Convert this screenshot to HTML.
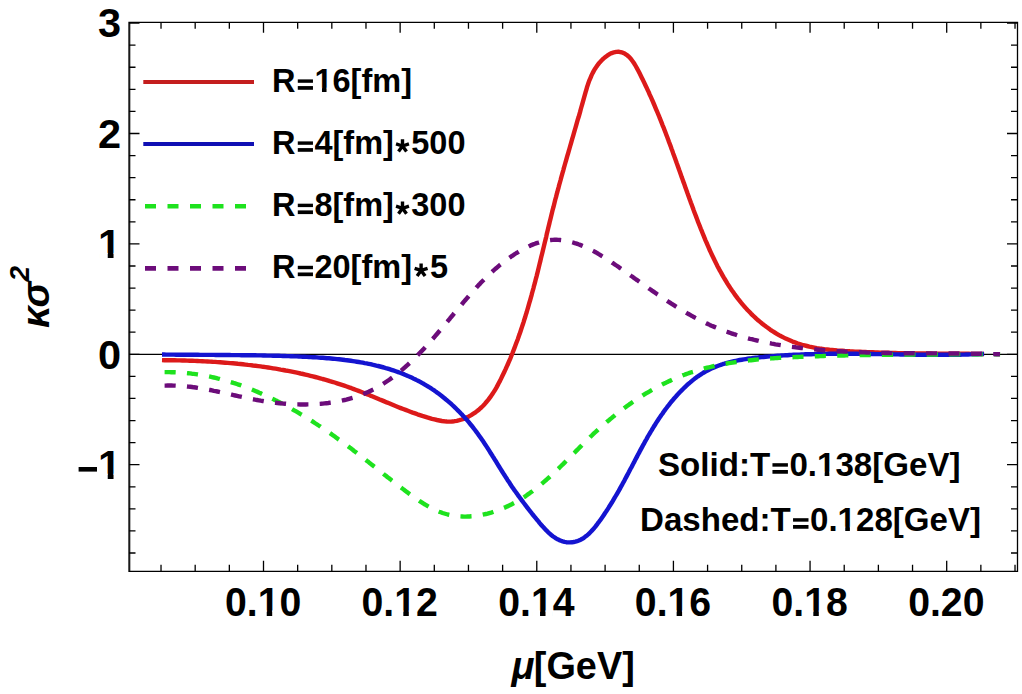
<!DOCTYPE html>
<html><head><meta charset="utf-8"><style>
html,body{margin:0;padding:0;background:#fff;width:1022px;height:694px;overflow:hidden}
svg{display:block}
</style></head><body><svg width="1022" height="694" viewBox="0 0 1022 694"><path d="M129.0,354.3H1017.5" stroke="#000" stroke-width="1.3"/><g><path d="M162.0,360.1L164.5,360.2L167.1,360.2L169.6,360.2L172.1,360.3L174.6,360.3L177.1,360.4L179.7,360.4L182.2,360.5L184.7,360.5L187.2,360.6L189.8,360.7L192.3,360.8L194.8,360.9L197.4,361.0L199.9,361.1L202.4,361.2L205.0,361.4L207.5,361.5L210.0,361.6L212.5,361.8L215.1,361.9L217.6,362.1L220.1,362.3L222.7,362.5L225.2,362.7L227.7,362.9L230.3,363.1L232.8,363.3L235.3,363.5L237.9,363.8L240.4,364.0L242.9,364.3L245.4,364.6L248.0,364.9L250.5,365.1L253.0,365.5L255.5,365.8L258.1,366.1L260.6,366.4L263.1,366.8L265.6,367.1L268.1,367.5L270.6,367.9L273.1,368.3L275.6,368.7L278.1,369.1L280.6,369.6L283.1,370.0L285.6,370.5L288.1,370.9L290.6,371.4L293.1,371.9L295.6,372.4L298.0,372.9L300.5,373.5L303.0,374.0L305.4,374.6L307.9,375.2L310.4,375.8L312.8,376.4L315.3,377.0L317.7,377.6L320.2,378.3L322.6,379.0L325.0,379.6L327.5,380.3L329.9,381.1L332.3,381.8L334.7,382.5L337.1,383.3L339.5,384.1L341.9,384.9L344.3,385.7L346.7,386.5L349.1,387.4L351.5,388.2L353.8,389.1L356.2,390.0L358.6,390.9L360.9,391.8L363.3,392.7L365.6,393.7L368.0,394.6L370.3,395.6L372.7,396.5L375.0,397.5L377.4,398.5L379.7,399.5L382.0,400.4L384.4,401.4L386.7,402.4L389.1,403.3L391.4,404.3L393.8,405.3L396.1,406.2L398.5,407.2L400.8,408.1L403.2,409.0L405.6,409.9L407.9,410.8L410.3,411.7L412.7,412.6L415.1,413.4L417.5,414.3L419.9,415.1L422.3,415.9L424.7,416.6L427.2,417.4L429.6,418.1L432.0,418.8L434.5,419.4L437.0,420.0L439.4,420.5L441.9,421.0L444.4,421.3L446.9,421.5L449.4,421.6L451.8,421.5L454.3,421.2L456.8,420.8L459.3,420.2L461.8,419.5L464.2,418.6L466.6,417.5L468.9,416.4L471.2,415.1L473.4,413.7L475.5,412.3L477.5,410.8L479.4,409.2L481.3,407.5L483.1,405.7L484.8,403.9L486.4,402.0L488.0,400.1L489.5,398.1L491.0,396.1L492.4,394.0L493.8,391.9L495.1,389.8L496.4,387.6L497.6,385.4L498.8,383.1L500.0,380.9L501.1,378.6L502.2,376.3L503.3,374.0L504.4,371.7L505.5,369.4L506.5,367.1L507.6,364.8L508.6,362.4L509.6,360.1L510.6,357.8L511.5,355.4L512.5,353.1L513.4,350.7L514.3,348.4L515.2,346.0L516.1,343.6L517.0,341.3L517.9,338.9L518.7,336.5L519.6,334.1L520.4,331.7L521.2,329.3L522.0,326.9L522.8,324.5L523.6,322.1L524.3,319.7L525.1,317.3L525.8,314.9L526.6,312.5L527.3,310.0L528.0,307.6L528.7,305.2L529.4,302.7L530.1,300.3L530.8,297.9L531.5,295.4L532.1,293.0L532.8,290.5L533.5,288.1L534.1,285.6L534.8,283.2L535.4,280.7L536.0,278.3L536.7,275.8L537.3,273.4L537.9,270.9L538.5,268.4L539.1,266.0L539.7,263.5L540.3,261.1L540.9,258.6L541.5,256.1L542.1,253.7L542.7,251.2L543.3,248.7L543.9,246.3L544.5,243.8L545.1,241.3L545.7,238.9L546.3,236.4L546.8,233.9L547.4,231.5L548.0,229.0L548.6,226.5L549.2,224.1L549.8,221.6L550.4,219.2L551.0,216.7L551.6,214.2L552.2,211.8L552.8,209.3L553.5,206.9L554.1,204.4L554.7,202.0L555.3,199.5L556.0,197.1L556.6,194.7L557.3,192.2L557.9,189.8L558.6,187.3L559.2,184.9L559.9,182.5L560.6,180.0L561.2,177.6L561.9,175.2L562.6,172.7L563.3,170.3L563.9,167.9L564.6,165.5L565.3,163.0L566.0,160.6L566.7,158.2L567.4,155.7L568.1,153.3L568.8,150.9L569.5,148.5L570.2,146.0L570.9,143.6L571.6,141.2L572.3,138.7L573.0,136.3L573.7,133.9L574.4,131.4L575.1,129.0L575.8,126.6L576.5,124.1L577.2,121.7L577.9,119.2L578.7,116.8L579.4,114.4L580.1,111.9L580.7,109.5L581.4,107.0L582.1,104.6L582.8,102.1L583.5,99.6L584.2,97.2L584.9,94.7L585.6,92.2L586.3,89.8L587.0,87.3L587.8,84.9L588.6,82.5L589.5,80.1L590.5,77.8L591.5,75.4L592.6,73.1L593.8,70.9L595.1,68.7L596.5,66.6L598.0,64.5L599.7,62.4L601.5,60.5L603.4,58.6L605.4,57.0L607.5,55.4L609.6,54.1L611.8,53.1L614.0,52.3L616.2,51.9L618.5,51.8L620.6,52.1L622.7,52.7L624.7,53.6L626.6,54.8L628.3,56.2L630.0,57.8L631.5,59.7L633.0,61.7L634.4,63.8L635.7,66.0L637.0,68.3L638.3,70.7L639.5,73.1L640.7,75.5L641.9,77.9L643.1,80.3L644.2,82.7L645.3,85.0L646.5,87.4L647.6,89.8L648.7,92.2L649.7,94.6L650.8,96.9L651.9,99.3L652.9,101.7L653.9,104.0L654.9,106.4L655.9,108.8L656.9,111.1L657.9,113.5L658.9,115.8L659.8,118.2L660.8,120.6L661.7,122.9L662.6,125.3L663.6,127.6L664.5,130.0L665.4,132.3L666.3,134.7L667.2,137.0L668.1,139.4L668.9,141.7L669.8,144.1L670.7,146.4L671.5,148.7L672.4,151.1L673.2,153.4L674.1,155.8L674.9,158.1L675.8,160.5L676.6,162.8L677.5,165.2L678.3,167.5L679.1,169.8L680.0,172.2L680.8,174.5L681.6,176.9L682.5,179.2L683.3,181.6L684.2,183.9L685.0,186.3L685.8,188.6L686.7,191.0L687.5,193.3L688.4,195.7L689.2,198.0L690.1,200.4L690.9,202.7L691.8,205.1L692.7,207.5L693.5,209.8L694.4,212.2L695.3,214.6L696.2,216.9L697.1,219.3L698.0,221.7L698.9,224.0L699.9,226.4L700.8,228.8L701.8,231.2L702.7,233.5L703.7,235.9L704.7,238.3L705.6,240.6L706.7,243.0L707.7,245.3L708.7,247.7L709.7,250.0L710.8,252.4L711.9,254.7L713.0,257.0L714.1,259.3L715.2,261.6L716.4,263.9L717.5,266.2L718.7,268.4L719.9,270.7L721.2,272.9L722.4,275.1L723.7,277.4L725.0,279.5L726.3,281.7L727.6,283.9L729.0,286.0L730.4,288.1L731.8,290.2L733.3,292.3L734.7,294.4L736.2,296.4L737.7,298.4L739.3,300.4L740.9,302.4L742.5,304.3L744.1,306.2L745.8,308.1L747.5,310.0L749.3,311.8L751.0,313.6L752.8,315.4L754.7,317.1L756.5,318.8L758.4,320.5L760.4,322.1L762.3,323.7L764.3,325.3L766.3,326.8L768.4,328.3L770.4,329.8L772.5,331.2L774.7,332.5L776.8,333.8L779.0,335.1L781.2,336.3L783.4,337.4L785.7,338.6L788.0,339.6L790.3,340.6L792.6,341.6L794.9,342.4L797.3,343.3L799.7,344.0L802.1,344.8L804.5,345.4L806.9,346.0L809.4,346.6L811.9,347.1L814.3,347.6L816.8,348.1L819.3,348.5L821.9,348.8L824.4,349.2L826.9,349.5L829.5,349.8L832.0,350.0L834.6,350.2L837.1,350.5L839.7,350.7L842.2,350.8L844.8,351.0L847.4,351.1L849.9,351.3L852.5,351.4L855.0,351.6L857.6,351.7L860.1,351.8L862.6,351.9L865.2,352.0L867.7,352.1L870.3,352.2L872.8,352.3L875.3,352.4L877.8,352.5L880.4,352.6L882.9,352.7L885.4,352.7L887.9,352.8L890.4,352.9L893.0,352.9L895.5,353.0L898.0,353.1L900.5,353.1L903.0,353.2L905.5,353.2L908.0,353.2L910.6,353.3L913.1,353.3L915.6,353.4L918.1,353.4L920.6,353.4L923.1,353.5L925.6,353.5L928.2,353.5L930.7,353.5L933.2,353.6L935.7,353.6L938.2,353.6L940.8,353.6L943.3,353.7L945.8,353.7L948.3,353.7L950.9,353.7L953.4,353.7L955.9,353.8L958.5,353.8L961.0,353.8L963.6,353.8L966.1,353.8L968.7,353.8L971.2,353.9L973.8,353.9L976.3,353.9L978.9,353.9L981.5,354.0L984.1,354.0" fill="none" stroke="#dc1a1a" stroke-width="4.4" stroke-linejoin="round"/><path d="M162.0,354.5L164.0,354.5L166.0,354.6L168.0,354.6L170.0,354.6L172.1,354.6L174.1,354.6L176.1,354.7L178.1,354.7L180.1,354.7L182.1,354.7L184.1,354.7L186.1,354.8L188.0,354.8L190.0,354.8L192.0,354.8L194.0,354.8L196.0,354.8L198.0,354.8L200.0,354.9L201.9,354.9L203.9,354.9L205.9,354.9L207.9,354.9L209.9,354.9L211.8,354.9L213.8,354.9L215.8,355.0L217.8,355.0L219.7,355.0L221.7,355.0L223.7,355.0L225.6,355.0L227.6,355.0L229.6,355.0L231.5,355.1L233.5,355.1L235.5,355.1L237.5,355.1L239.4,355.1L241.4,355.2L243.4,355.2L245.3,355.2L247.3,355.2L249.3,355.3L251.2,355.3L253.2,355.3L255.2,355.3L257.2,355.4L259.1,355.4L261.1,355.4L263.1,355.5L265.0,355.5L267.0,355.6L269.0,355.6L271.0,355.6L273.0,355.7L274.9,355.7L276.9,355.8L278.9,355.8L280.9,355.9L282.9,356.0L284.9,356.0L286.9,356.1L288.8,356.1L290.8,356.2L292.8,356.3L294.8,356.4L296.8,356.4L298.8,356.5L300.8,356.6L302.8,356.7L304.9,356.8L306.9,356.9L308.9,357.0L310.9,357.1L312.9,357.2L314.9,357.3L316.9,357.4L318.9,357.6L320.9,357.7L322.9,357.8L324.9,358.0L326.9,358.2L329.0,358.3L331.0,358.5L333.0,358.7L335.0,358.9L337.0,359.1L339.0,359.3L341.0,359.5L342.9,359.7L344.9,360.0L346.9,360.2L348.9,360.5L350.9,360.8L352.9,361.1L354.8,361.4L356.8,361.7L358.8,362.0L360.7,362.3L362.7,362.7L364.6,363.1L366.6,363.4L368.5,363.8L370.5,364.2L372.4,364.7L374.3,365.1L376.3,365.6L378.2,366.0L380.1,366.5L382.0,367.0L383.9,367.5L385.8,368.1L387.7,368.6L389.5,369.2L391.4,369.8L393.3,370.4L395.1,371.0L397.0,371.7L398.8,372.3L400.7,373.0L402.5,373.7L404.3,374.4L406.1,375.2L407.9,376.0L409.7,376.7L411.5,377.5L413.2,378.4L415.0,379.2L416.7,380.1L418.5,381.0L420.2,381.9L421.9,382.9L423.6,383.8L425.3,384.8L427.0,385.8L428.7,386.9L430.4,387.9L432.0,389.0L433.7,390.1L435.3,391.3L436.9,392.4L438.5,393.6L440.1,394.8L441.7,396.0L443.2,397.2L444.8,398.5L446.3,399.8L447.9,401.1L449.4,402.4L450.9,403.7L452.3,405.0L453.8,406.4L455.3,407.8L456.7,409.2L458.1,410.6L459.5,412.0L460.9,413.5L462.3,414.9L463.7,416.4L465.0,417.9L466.4,419.4L467.7,420.9L469.0,422.4L470.2,424.0L471.5,425.5L472.8,427.1L474.0,428.7L475.2,430.3L476.4,431.9L477.6,433.5L478.7,435.1L479.9,436.7L481.0,438.3L482.2,440.0L483.3,441.6L484.4,443.3L485.5,444.9L486.6,446.6L487.6,448.2L488.7,449.9L489.8,451.6L490.8,453.3L491.9,454.9L492.9,456.6L494.0,458.3L495.0,460.0L496.1,461.6L497.1,463.3L498.1,465.0L499.2,466.7L500.2,468.3L501.2,470.0L502.3,471.7L503.3,473.3L504.4,475.0L505.4,476.6L506.5,478.3L507.5,479.9L508.6,481.5L509.7,483.1L510.7,484.8L511.8,486.4L512.9,488.0L514.0,489.6L515.2,491.2L516.3,492.7L517.4,494.3L518.5,495.9L519.7,497.5L520.9,499.1L522.0,500.7L523.2,502.2L524.4,503.8L525.6,505.4L526.8,507.0L528.1,508.6L529.3,510.2L530.6,511.8L531.8,513.4L533.1,515.0L534.4,516.6L535.7,518.2L537.0,519.8L538.4,521.4L539.7,523.1L541.1,524.7L542.5,526.3L543.9,527.8L545.3,529.4L546.8,530.8L548.2,532.3L549.7,533.6L551.3,535.0L552.8,536.2L554.4,537.3L556.0,538.4L557.6,539.3L559.3,540.1L561.0,540.8L562.7,541.4L564.5,541.9L566.3,542.2L568.1,542.4L570.0,542.4L571.8,542.3L573.6,542.0L575.4,541.6L577.2,541.1L578.9,540.5L580.6,539.7L582.3,538.8L583.9,537.8L585.4,536.6L587.0,535.4L588.5,534.1L589.9,532.7L591.3,531.3L592.7,529.7L594.1,528.2L595.4,526.6L596.7,524.9L597.9,523.2L599.2,521.6L600.4,519.9L601.6,518.2L602.8,516.5L604.0,514.7L605.1,513.0L606.3,511.3L607.4,509.6L608.5,507.9L609.5,506.2L610.6,504.5L611.7,502.8L612.7,501.1L613.7,499.4L614.7,497.7L615.7,496.0L616.7,494.3L617.7,492.6L618.7,490.9L619.7,489.1L620.6,487.4L621.6,485.7L622.5,484.0L623.4,482.3L624.4,480.6L625.3,478.8L626.2,477.1L627.1,475.4L628.0,473.7L628.9,472.0L629.8,470.2L630.7,468.5L631.7,466.8L632.6,465.0L633.5,463.3L634.4,461.6L635.3,459.8L636.2,458.1L637.1,456.4L638.0,454.6L639.0,452.9L639.9,451.1L640.8,449.4L641.8,447.6L642.7,445.9L643.7,444.2L644.6,442.4L645.6,440.7L646.6,439.0L647.5,437.2L648.5,435.5L649.5,433.8L650.5,432.1L651.6,430.4L652.6,428.7L653.6,427.0L654.7,425.3L655.7,423.6L656.8,421.9L657.9,420.2L659.0,418.6L660.1,416.9L661.2,415.3L662.4,413.7L663.5,412.0L664.7,410.4L665.9,408.8L667.1,407.2L668.3,405.7L669.5,404.1L670.7,402.5L672.0,401.0L673.3,399.5L674.6,397.9L675.9,396.5L677.2,395.0L678.6,393.5L680.0,392.0L681.4,390.6L682.8,389.2L684.2,387.8L685.7,386.4L687.1,385.0L688.6,383.7L690.2,382.4L691.7,381.1L693.2,379.9L694.8,378.6L696.4,377.4L698.0,376.3L699.7,375.2L701.3,374.1L703.0,373.0L704.7,372.0L706.4,371.1L708.1,370.2L709.9,369.3L711.6,368.4L713.4,367.7L715.2,366.9L717.0,366.2L718.9,365.5L720.7,364.9L722.6,364.2L724.5,363.7L726.3,363.1L728.2,362.6L730.1,362.1L732.1,361.6L734.0,361.2L735.9,360.8L737.9,360.4L739.8,360.0L741.8,359.7L743.7,359.4L745.7,359.1L747.7,358.8L749.7,358.5L751.7,358.3L753.7,358.0L755.6,357.8L757.6,357.6L759.6,357.3L761.6,357.1L763.6,357.0L765.6,356.8L767.6,356.6L769.6,356.4L771.6,356.3L773.6,356.1L775.6,355.9L777.6,355.8L779.6,355.7L781.5,355.5L783.5,355.4L785.5,355.3L787.5,355.2L789.5,355.0L791.5,354.9L793.5,354.8L795.5,354.7L797.4,354.7L799.4,354.6L801.4,354.5L803.4,354.4L805.4,354.3L807.4,354.3L809.4,354.2L811.3,354.2L813.3,354.1L815.3,354.1L817.3,354.0L819.3,354.0L821.3,353.9L823.2,353.9L825.2,353.9L827.2,353.9L829.2,353.8L831.2,353.8L833.2,353.8L835.1,353.8L837.1,353.8L839.1,353.8L841.1,353.8L843.1,353.8L845.1,353.8L847.0,353.8L849.0,353.8L851.0,353.8L853.0,353.8L855.0,353.8L856.9,353.8L858.9,353.9L860.9,353.9L862.9,353.9L864.9,353.9L866.8,354.0L868.8,354.0L870.8,354.0L872.8,354.0L874.8,354.1L876.7,354.1L878.7,354.1L880.7,354.1L882.7,354.2L884.7,354.2L886.7,354.2L888.6,354.3L890.6,354.3L892.6,354.3L894.6,354.4L896.6,354.4L898.5,354.4L900.5,354.5L902.5,354.5L904.5,354.5L906.5,354.6L908.5,354.6L910.4,354.6L912.4,354.6L914.4,354.7L916.4,354.7L918.4,354.7L920.4,354.7L922.3,354.7L924.3,354.8L926.3,354.8L928.3,354.8L930.3,354.8L932.3,354.8L934.2,354.8L936.2,354.8L938.2,354.8L940.2,354.8L942.2,354.8L944.2,354.8L946.2,354.8L948.2,354.8L950.1,354.8L952.1,354.8L954.1,354.7L956.1,354.7L958.1,354.7L960.1,354.7L962.1,354.6L964.1,354.6L966.1,354.5L968.1,354.5L970.1,354.4L972.0,354.4L974.0,354.3L976.0,354.2L978.0,354.2L980.0,354.1L982.0,354.0L984.0,353.9" fill="none" stroke="#1414d0" stroke-width="4.4" stroke-linejoin="round"/><path d="M161.8,372.2L163.7,372.1L165.6,372.1L167.5,372.1L169.4,372.1L171.3,372.2L173.2,372.2L175.1,372.3L177.0,372.4L178.8,372.5L180.7,372.6L182.6,372.7L184.4,372.9L186.3,373.0L188.2,373.2L190.0,373.4L191.9,373.7L193.7,373.9L195.6,374.1L197.4,374.4L199.2,374.7L201.1,375.0L202.9,375.3L204.7,375.6L206.5,376.0L208.3,376.3L210.2,376.7L212.0,377.1L213.8,377.5L215.6,377.9L217.4,378.4L219.2,378.8L220.9,379.3L222.7,379.7L224.5,380.2L226.3,380.7L228.1,381.3L229.8,381.8L231.6,382.3L233.4,382.9L235.1,383.4L236.9,384.0L238.6,384.6L240.4,385.2L242.1,385.8L243.8,386.5L245.6,387.1L247.3,387.8L249.0,388.4L250.8,389.1L252.5,389.8L254.2,390.5L255.9,391.2L257.6,391.9L259.3,392.7L261.0,393.4L262.7,394.2L264.4,394.9L266.1,395.7L267.8,396.5L269.4,397.3L271.1,398.1L272.8,398.9L274.4,399.7L276.1,400.6L277.8,401.4L279.4,402.2L281.1,403.1L282.7,404.0L284.4,404.8L286.0,405.7L287.6,406.6L289.3,407.5L290.9,408.4L292.5,409.4L294.1,410.3L295.7,411.2L297.4,412.2L299.0,413.1L300.6,414.1L302.2,415.0L303.8,416.0L305.3,417.0L306.9,417.9L308.5,418.9L310.1,419.9L311.7,420.9L313.2,421.9L314.8,423.0L316.4,424.0L317.9,425.0L319.5,426.0L321.0,427.1L322.6,428.1L324.1,429.1L325.7,430.2L327.2,431.2L328.7,432.3L330.3,433.4L331.8,434.4L333.3,435.5L334.8,436.6L336.3,437.7L337.8,438.8L339.3,439.8L340.8,440.9L342.3,442.0L343.8,443.1L345.3,444.2L346.8,445.3L348.3,446.4L349.7,447.5L351.2,448.6L352.7,449.8L354.1,450.9L355.6,452.0L357.0,453.1L358.5,454.2L359.9,455.3L361.4,456.5L362.8,457.6L364.3,458.7L365.7,459.9L367.1,461.0L368.6,462.1L370.0,463.3L371.5,464.4L372.9,465.5L374.3,466.7L375.8,467.8L377.2,468.9L378.7,470.1L380.1,471.2L381.5,472.4L383.0,473.5L384.4,474.7L385.9,475.8L387.3,476.9L388.8,478.1L390.3,479.2L391.7,480.4L393.2,481.5L394.7,482.7L396.2,483.8L397.7,485.0L399.2,486.1L400.7,487.3L402.2,488.4L403.7,489.6L405.2,490.7L406.7,491.9L408.3,493.0L409.8,494.2L411.4,495.3L412.9,496.5L414.5,497.6L416.1,498.7L417.7,499.8L419.3,500.9L420.9,501.9L422.5,502.9L424.1,504.0L425.7,504.9L427.4,505.9L429.0,506.8L430.7,507.7L432.3,508.6L434.0,509.4L435.7,510.2L437.4,511.0L439.1,511.7L440.8,512.3L442.6,513.0L444.3,513.5L446.0,514.0L447.8,514.5L449.6,514.9L451.3,515.3L453.1,515.6L454.9,515.9L456.7,516.1L458.5,516.3L460.3,516.4L462.2,516.5L464.0,516.6L465.8,516.6L467.6,516.5L469.4,516.5L471.3,516.3L473.1,516.2L474.9,516.0L476.7,515.7L478.6,515.5L480.4,515.2L482.2,514.8L484.0,514.4L485.8,514.0L487.6,513.6L489.4,513.1L491.2,512.6L493.0,512.0L494.7,511.4L496.5,510.8L498.3,510.2L500.0,509.5L501.7,508.9L503.4,508.1L505.1,507.4L506.8,506.6L508.5,505.9L510.2,505.0L511.8,504.2L513.5,503.3L515.1,502.5L516.7,501.6L518.3,500.7L519.8,499.7L521.4,498.8L522.9,497.8L524.5,496.8L526.0,495.8L527.5,494.7L529.0,493.7L530.5,492.6L532.0,491.5L533.4,490.4L534.9,489.3L536.3,488.2L537.8,487.1L539.2,485.9L540.6,484.7L542.0,483.6L543.4,482.4L544.8,481.2L546.2,480.0L547.6,478.7L549.0,477.5L550.4,476.3L551.7,475.0L553.1,473.7L554.4,472.5L555.8,471.2L557.1,469.9L558.5,468.6L559.8,467.3L561.1,466.0L562.5,464.7L563.8,463.4L565.1,462.1L566.4,460.7L567.8,459.4L569.1,458.1L570.4,456.8L571.7,455.4L573.1,454.1L574.4,452.8L575.7,451.4L577.0,450.1L578.4,448.7L579.7,447.4L581.0,446.1L582.3,444.7L583.7,443.4L585.0,442.1L586.4,440.8L587.7,439.5L589.1,438.1L590.4,436.8L591.8,435.5L593.1,434.2L594.5,432.9L595.9,431.7L597.3,430.4L598.7,429.1L600.1,427.9L601.5,426.6L602.9,425.4L604.3,424.1L605.7,422.9L607.1,421.7L608.6,420.5L610.0,419.3L611.5,418.1L612.9,416.9L614.4,415.7L615.8,414.5L617.3,413.4L618.8,412.2L620.3,411.1L621.8,409.9L623.2,408.8L624.7,407.7L626.3,406.6L627.8,405.5L629.3,404.4L630.8,403.4L632.3,402.3L633.9,401.2L635.4,400.2L637.0,399.2L638.5,398.2L640.1,397.2L641.7,396.2L643.2,395.2L644.8,394.2L646.4,393.2L648.0,392.3L649.6,391.4L651.2,390.4L652.8,389.5L654.4,388.6L656.0,387.7L657.7,386.9L659.3,386.0L660.9,385.2L662.6,384.3L664.2,383.5L665.9,382.7L667.5,381.9L669.2,381.1L670.9,380.4L672.5,379.6L674.2,378.9L675.9,378.2L677.6,377.5L679.3,376.8L681.0,376.1L682.7,375.4L684.4,374.8L686.1,374.1L687.9,373.5L689.6,372.9L691.3,372.3L693.1,371.8L694.8,371.2L696.6,370.7L698.3,370.2L700.1,369.6L701.9,369.1L703.7,368.7L705.4,368.2L707.2,367.7L709.0,367.3L710.8,366.9L712.6,366.4L714.4,366.0L716.2,365.6L718.0,365.3L719.8,364.9L721.6,364.5L723.4,364.2L725.2,363.8L727.1,363.5L728.9,363.2L730.7,362.9L732.6,362.6L734.4,362.3L736.2,362.1L738.1,361.8L739.9,361.5L741.8,361.3L743.6,361.1L745.5,360.8L747.3,360.6L749.2,360.4L751.0,360.2L752.9,360.0L754.7,359.8L756.6,359.6L758.5,359.4L760.3,359.3L762.2,359.1L764.1,359.0L765.9,358.8L767.8,358.7L769.7,358.5L771.5,358.4L773.4,358.3L775.3,358.1L777.2,358.0L779.0,357.9L780.9,357.8L782.8,357.7L784.6,357.6L786.5,357.5L788.4,357.4L790.3,357.3L792.1,357.2L794.0,357.1L795.9,357.0L797.7,357.0L799.6,356.9L801.5,356.8L803.3,356.7L805.2,356.7L807.1,356.6L808.9,356.5L810.8,356.4L812.7,356.4L814.5,356.3L816.4,356.2L818.2,356.2L820.1,356.1L822.0,356.1L823.8,356.0L825.7,355.9L827.5,355.9L829.4,355.8L831.2,355.8L833.1,355.7L834.9,355.7L836.8,355.6L838.7,355.6L840.5,355.5L842.4,355.5L844.2,355.5L846.1,355.4L847.9,355.4L849.8,355.3L851.6,355.3L853.5,355.3L855.3,355.2L857.2,355.2L859.0,355.2L860.9,355.1L862.7,355.1L864.6,355.1L866.4,355.0L868.3,355.0L870.1,355.0L871.9,355.0L873.8,354.9L875.6,354.9L877.5,354.9L879.3,354.9L881.2,354.8L883.0,354.8L884.9,354.8L886.7,354.8L888.6,354.8L890.4,354.7L892.3,354.7L894.1,354.7L896.0,354.7L897.8,354.7L899.6,354.7L901.5,354.6L903.3,354.6L905.2,354.6L907.0,354.6L908.9,354.6L910.7,354.6L912.6,354.6L914.4,354.6L916.3,354.6L918.1,354.5L920.0,354.5L921.8,354.5L923.7,354.5L925.5,354.5L927.4,354.5L929.2,354.5L931.1,354.5L932.9,354.5L934.8,354.5L936.6,354.5L938.5,354.5L940.3,354.5L942.2,354.5L944.1,354.4L945.9,354.4L947.8,354.4L949.6,354.4L951.5,354.4L953.3,354.4L955.2,354.4L957.1,354.4L958.9,354.4L960.8,354.4L962.6,354.4L964.5,354.4L966.4,354.4L968.2,354.4L970.1,354.4L972.0,354.3L973.8,354.3L975.7,354.3L977.6,354.3L979.4,354.3L981.3,354.3L983.2,354.3L985.1,354.3L986.9,354.3L988.8,354.3L990.7,354.2L992.6,354.2L994.4,354.2L996.3,354.2L998.2,354.2L1000.1,354.2" fill="none" stroke="#1ee21e" stroke-width="4.4" stroke-linejoin="round" stroke-dasharray="11.1 11.3" stroke-dashoffset="-2.8"/><path d="M161.8,385.7L163.7,385.6L165.7,385.6L167.6,385.5L169.5,385.5L171.5,385.5L173.4,385.6L175.3,385.6L177.2,385.7L179.0,385.8L180.9,385.9L182.8,386.0L184.6,386.2L186.5,386.4L188.3,386.6L190.2,386.8L192.0,387.0L193.9,387.3L195.7,387.5L197.5,387.8L199.3,388.1L201.2,388.4L203.0,388.7L204.8,389.0L206.6,389.3L208.4,389.7L210.2,390.0L212.0,390.4L213.8,390.8L215.6,391.1L217.4,391.5L219.1,391.9L220.9,392.3L222.7,392.7L224.5,393.1L226.3,393.5L228.1,393.9L229.9,394.3L231.7,394.7L233.5,395.1L235.3,395.5L237.1,395.9L238.9,396.3L240.7,396.7L242.5,397.1L244.3,397.5L246.1,397.9L247.9,398.2L249.7,398.6L251.5,399.0L253.4,399.3L255.2,399.7L257.0,400.0L258.9,400.3L260.7,400.7L262.6,401.0L264.4,401.3L266.3,401.6L268.1,401.8L270.0,402.1L271.9,402.3L273.8,402.6L275.6,402.8L277.5,403.0L279.4,403.2L281.3,403.4L283.2,403.6L285.1,403.7L286.9,403.9L288.8,404.0L290.7,404.1L292.6,404.2L294.5,404.3L296.4,404.4L298.3,404.4L300.2,404.5L302.1,404.5L304.0,404.5L305.9,404.5L307.7,404.4L309.6,404.4L311.5,404.3L313.4,404.3L315.2,404.2L317.1,404.1L319.0,403.9L320.8,403.8L322.7,403.6L324.6,403.4L326.4,403.2L328.3,403.0L330.1,402.7L331.9,402.5L333.8,402.2L335.6,401.9L337.4,401.5L339.2,401.2L341.0,400.8L342.8,400.4L344.6,400.0L346.3,399.6L348.1,399.1L349.9,398.6L351.6,398.1L353.4,397.6L355.1,397.1L356.8,396.5L358.5,395.9L360.2,395.3L361.9,394.6L363.6,394.0L365.3,393.3L366.9,392.5L368.6,391.8L370.2,391.0L371.8,390.2L373.5,389.4L375.1,388.6L376.6,387.7L378.2,386.8L379.8,385.9L381.3,385.0L382.9,384.0L384.4,383.0L385.9,382.0L387.4,381.0L388.9,380.0L390.4,378.9L391.9,377.9L393.4,376.8L394.9,375.6L396.3,374.5L397.8,373.4L399.2,372.2L400.6,371.0L402.0,369.8L403.4,368.6L404.8,367.4L406.2,366.1L407.6,364.9L409.0,363.6L410.4,362.3L411.7,361.0L413.1,359.7L414.4,358.4L415.8,357.1L417.1,355.8L418.4,354.4L419.7,353.0L421.1,351.7L422.4,350.3L423.7,348.9L425.0,347.5L426.2,346.1L427.5,344.7L428.8,343.3L430.1,341.9L431.3,340.4L432.6,339.0L433.9,337.6L435.1,336.1L436.3,334.7L437.6,333.2L438.8,331.8L440.1,330.3L441.3,328.9L442.5,327.4L443.7,326.0L445.0,324.5L446.2,323.0L447.4,321.6L448.6,320.1L449.8,318.7L451.0,317.2L452.2,315.8L453.4,314.3L454.6,312.9L455.8,311.4L457.0,310.0L458.2,308.5L459.4,307.1L460.6,305.7L461.8,304.3L463.0,302.8L464.2,301.4L465.4,300.0L466.6,298.6L467.8,297.2L469.0,295.8L470.2,294.4L471.4,293.1L472.6,291.7L473.9,290.3L475.1,289.0L476.3,287.6L477.6,286.3L478.8,284.9L480.1,283.6L481.3,282.3L482.6,281.0L483.9,279.7L485.2,278.4L486.5,277.1L487.8,275.8L489.1,274.6L490.4,273.3L491.8,272.1L493.1,270.9L494.5,269.7L495.8,268.5L497.2,267.3L498.6,266.1L500.0,264.9L501.5,263.8L502.9,262.6L504.4,261.5L505.8,260.4L507.3,259.3L508.8,258.2L510.3,257.2L511.8,256.1L513.4,255.1L514.9,254.0L516.5,253.0L518.1,252.1L519.7,251.1L521.4,250.2L523.0,249.2L524.7,248.4L526.3,247.5L528.0,246.7L529.7,245.9L531.4,245.1L533.2,244.4L534.9,243.8L536.6,243.1L538.4,242.6L540.2,242.0L541.9,241.6L543.7,241.1L545.5,240.8L547.3,240.5L549.1,240.2L551.0,240.0L552.8,239.9L554.6,239.8L556.5,239.8L558.3,239.9L560.2,240.0L562.0,240.2L563.9,240.5L565.7,240.8L567.6,241.1L569.4,241.6L571.2,242.0L573.0,242.5L574.8,243.1L576.6,243.6L578.4,244.3L580.1,244.9L581.9,245.6L583.6,246.3L585.3,247.0L587.0,247.8L588.7,248.6L590.3,249.4L592.0,250.3L593.6,251.1L595.2,252.0L596.8,252.9L598.4,253.9L600.0,254.8L601.6,255.8L603.2,256.7L604.8,257.7L606.3,258.7L607.9,259.8L609.4,260.8L611.0,261.8L612.5,262.9L614.1,263.9L615.6,265.0L617.2,266.0L618.7,267.1L620.2,268.2L621.8,269.2L623.3,270.3L624.8,271.4L626.4,272.5L627.9,273.6L629.4,274.6L630.9,275.7L632.5,276.8L634.0,277.9L635.5,279.0L637.1,280.1L638.6,281.2L640.1,282.2L641.7,283.3L643.2,284.4L644.7,285.5L646.3,286.6L647.8,287.6L649.3,288.7L650.9,289.8L652.4,290.9L653.9,291.9L655.5,293.0L657.0,294.1L658.6,295.1L660.1,296.2L661.7,297.2L663.2,298.3L664.8,299.3L666.3,300.3L667.9,301.4L669.5,302.4L671.0,303.4L672.6,304.4L674.2,305.4L675.7,306.4L677.3,307.4L678.9,308.3L680.5,309.3L682.1,310.3L683.7,311.2L685.3,312.1L686.9,313.1L688.5,314.0L690.1,314.9L691.7,315.8L693.3,316.7L695.0,317.6L696.6,318.4L698.2,319.3L699.9,320.1L701.5,321.0L703.2,321.8L704.8,322.6L706.5,323.4L708.2,324.1L709.8,324.9L711.5,325.7L713.2,326.4L714.9,327.1L716.6,327.8L718.3,328.5L720.0,329.2L721.7,329.9L723.5,330.5L725.2,331.2L726.9,331.8L728.7,332.4L730.4,333.0L732.1,333.6L733.9,334.2L735.7,334.7L737.4,335.3L739.2,335.8L741.0,336.3L742.7,336.8L744.5,337.3L746.3,337.8L748.1,338.3L749.9,338.8L751.7,339.2L753.5,339.7L755.3,340.1L757.1,340.5L758.9,341.0L760.7,341.4L762.6,341.8L764.4,342.1L766.2,342.5L768.0,342.9L769.9,343.2L771.7,343.6L773.5,343.9L775.4,344.3L777.2,344.6L779.0,344.9L780.9,345.2L782.7,345.5L784.6,345.8L786.4,346.0L788.3,346.3L790.1,346.6L792.0,346.8L793.8,347.1L795.7,347.3L797.6,347.6L799.4,347.8L801.3,348.0L803.1,348.2L805.0,348.4L806.9,348.6L808.7,348.8L810.6,349.0L812.4,349.2L814.3,349.4L816.2,349.5L818.0,349.7L819.9,349.9L821.8,350.0L823.6,350.2L825.5,350.3L827.3,350.5L829.2,350.6L831.1,350.7L832.9,350.9L834.8,351.0L836.6,351.1L838.5,351.2L840.3,351.3L842.2,351.4L844.1,351.5L845.9,351.6L847.8,351.7L849.6,351.8L851.5,351.9L853.3,352.0L855.2,352.1L857.0,352.2L858.9,352.2L860.7,352.3L862.6,352.4L864.4,352.4L866.3,352.5L868.2,352.6L870.0,352.6L871.9,352.7L873.7,352.7L875.6,352.8L877.4,352.8L879.3,352.8L881.1,352.9L883.0,352.9L884.8,353.0L886.7,353.0L888.5,353.0L890.4,353.1L892.2,353.1L894.1,353.1L895.9,353.1L897.8,353.2L899.6,353.2L901.5,353.2L903.3,353.2L905.2,353.2L907.0,353.2L908.9,353.3L910.7,353.3L912.6,353.3L914.5,353.3L916.3,353.3L918.2,353.3L920.0,353.3L921.9,353.3L923.7,353.3L925.6,353.4L927.4,353.4L929.3,353.4L931.1,353.4L933.0,353.4L934.8,353.4L936.7,353.4L938.6,353.4L940.4,353.4L942.3,353.4L944.1,353.4L946.0,353.4L947.8,353.4L949.7,353.5L951.5,353.5L953.4,353.5L955.3,353.5L957.1,353.5L959.0,353.5L960.8,353.5L962.7,353.6L964.6,353.6L966.4,353.6L968.3,353.6L970.2,353.6L972.0,353.7L973.9,353.7L975.7,353.7L977.6,353.8L979.5,353.8L981.3,353.8L983.2,353.9L985.1,353.9L986.9,353.9L988.8,354.0L990.7,354.0L992.5,354.1L994.4,354.1L996.3,354.2L998.2,354.2L1000.0,354.3" fill="none" stroke="#6c0c7a" stroke-width="4.4" stroke-linejoin="round" stroke-dasharray="11.1 11.3" stroke-dashoffset="-2.8"/></g><path d="M129.0,22.3H1017.5V571.3H129.0Z" fill="none" stroke="#000" stroke-width="1.3"/><path d="M129.8,22.3V571.3" stroke="#000" stroke-width="1"/><path d="M161.02,571.3v-6.5M161.02,22.3v6.5M195.18,571.3v-6.5M195.18,22.3v6.5M229.34,571.3v-6.5M229.34,22.3v6.5M263.50,571.3v-10.5M263.50,22.3v10.5M297.66,571.3v-6.5M297.66,22.3v6.5M331.82,571.3v-6.5M331.82,22.3v6.5M365.98,571.3v-6.5M365.98,22.3v6.5M400.14,571.3v-10.5M400.14,22.3v10.5M434.30,571.3v-6.5M434.30,22.3v6.5M468.46,571.3v-6.5M468.46,22.3v6.5M502.62,571.3v-6.5M502.62,22.3v6.5M536.78,571.3v-10.5M536.78,22.3v10.5M570.94,571.3v-6.5M570.94,22.3v6.5M605.10,571.3v-6.5M605.10,22.3v6.5M639.26,571.3v-6.5M639.26,22.3v6.5M673.42,571.3v-10.5M673.42,22.3v10.5M707.58,571.3v-6.5M707.58,22.3v6.5M741.74,571.3v-6.5M741.74,22.3v6.5M775.90,571.3v-6.5M775.90,22.3v6.5M810.06,571.3v-10.5M810.06,22.3v10.5M844.22,571.3v-6.5M844.22,22.3v6.5M878.38,571.3v-6.5M878.38,22.3v6.5M912.54,571.3v-6.5M912.54,22.3v6.5M946.70,571.3v-10.5M946.70,22.3v10.5M980.86,571.3v-6.5M980.86,22.3v6.5M1015.02,571.3v-6.5M1015.02,22.3v6.5M129.0,553.02h6.5M1017.5,553.02h-6.5M129.0,530.94h6.5M1017.5,530.94h-6.5M129.0,508.86h6.5M1017.5,508.86h-6.5M129.0,486.78h6.5M1017.5,486.78h-6.5M129.0,464.70h10.5M1017.5,464.70h-10.5M129.0,442.62h6.5M1017.5,442.62h-6.5M129.0,420.54h6.5M1017.5,420.54h-6.5M129.0,398.46h6.5M1017.5,398.46h-6.5M129.0,376.38h6.5M1017.5,376.38h-6.5M129.0,354.30h10.5M1017.5,354.30h-10.5M129.0,332.22h6.5M1017.5,332.22h-6.5M129.0,310.14h6.5M1017.5,310.14h-6.5M129.0,288.06h6.5M1017.5,288.06h-6.5M129.0,265.98h6.5M1017.5,265.98h-6.5M129.0,243.90h10.5M1017.5,243.90h-10.5M129.0,221.82h6.5M1017.5,221.82h-6.5M129.0,199.74h6.5M1017.5,199.74h-6.5M129.0,177.66h6.5M1017.5,177.66h-6.5M129.0,155.58h6.5M1017.5,155.58h-6.5M129.0,133.50h10.5M1017.5,133.50h-10.5M129.0,111.42h6.5M1017.5,111.42h-6.5M129.0,89.34h6.5M1017.5,89.34h-6.5M129.0,67.26h6.5M1017.5,67.26h-6.5M129.0,45.18h6.5M1017.5,45.18h-6.5M129.0,23.10h10.5M1017.5,23.10h-10.5" stroke="#000" stroke-width="1.3" fill="none"/><g font-family="Liberation Sans" font-weight="bold" font-size="41.5" fill="#000"><text transform="translate(263.1,615.6) scale(0.945,1)" text-anchor="middle">0.10</text><text transform="translate(399.7,615.6) scale(0.945,1)" text-anchor="middle">0.12</text><text transform="translate(536.4,615.6) scale(0.945,1)" text-anchor="middle">0.14</text><text transform="translate(673.0,615.6) scale(0.945,1)" text-anchor="middle">0.16</text><text transform="translate(809.7,615.6) scale(0.945,1)" text-anchor="middle">0.18</text><text transform="translate(946.3,615.6) scale(0.945,1)" text-anchor="middle">0.20</text><text x="121.2" y="37.3" text-anchor="end">3</text><text x="121.2" y="147.7" text-anchor="end">2</text><text x="121.2" y="258.1" text-anchor="end">1</text><text x="121.2" y="368.5" text-anchor="end">0</text></g><rect x="78.6" y="467.0" width="18.4" height="4.6" fill="#000"/><text x="121.2" y="478.9" text-anchor="end" font-family="Liberation Sans" font-weight="bold" font-size="41.5">1</text><text x="511.5" y="679.2" font-family="Liberation Sans" font-weight="bold" font-style="italic" font-size="38">μ</text><text x="533.8" y="679.2" textLength="101" lengthAdjust="spacingAndGlyphs" font-family="Liberation Sans" font-weight="bold" font-size="39">[GeV]</text><text transform="translate(49,297) rotate(-90)" text-anchor="middle" font-family="Liberation Sans" font-weight="bold" font-style="italic" font-size="39">κσ<tspan dy="-20" font-size="28">2</tspan></text><path d="M143.3,82H254" stroke="#c41e1e" stroke-width="4.2"/><text x="272" y="92" font-family="Liberation Sans" font-weight="bold" font-size="32.5">R=16[fm]</text><path d="M143.3,144H254" stroke="#1010b4" stroke-width="4.2"/><text x="272" y="154" font-family="Liberation Sans" font-weight="bold" font-size="32.5">R=4[fm]</text><path d="M402.50,146.00L402.50,139.20M402.50,146.00L408.97,143.90M402.50,146.00L406.50,151.50M402.50,146.00L398.50,151.50M402.50,146.00L396.03,143.90" stroke="#000" stroke-width="3.4" stroke-linecap="butt" fill="none"/><text x="411.3" y="154" font-family="Liberation Sans" font-weight="bold" font-size="32.5">500</text><path d="M145,206.3H246.2" stroke="#1ee21e" stroke-width="4.6" stroke-dasharray="11 11.5"/><text x="272" y="216.3" font-family="Liberation Sans" font-weight="bold" font-size="32.5">R=8[fm]</text><path d="M402.50,208.30L402.50,201.50M402.50,208.30L408.97,206.20M402.50,208.30L406.50,213.80M402.50,208.30L398.50,213.80M402.50,208.30L396.03,206.20" stroke="#000" stroke-width="3.4" stroke-linecap="butt" fill="none"/><text x="411.3" y="216.3" font-family="Liberation Sans" font-weight="bold" font-size="32.5">300</text><path d="M145,268.4H246.2" stroke="#6c0c7a" stroke-width="4.6" stroke-dasharray="11 11.5"/><text x="272" y="278.4" font-family="Liberation Sans" font-weight="bold" font-size="32.5">R=20[fm]</text><path d="M421.10,270.40L421.10,263.60M421.10,270.40L427.57,268.30M421.10,270.40L425.10,275.90M421.10,270.40L417.10,275.90M421.10,270.40L414.63,268.30" stroke="#000" stroke-width="3.4" stroke-linecap="butt" fill="none"/><text x="429.9" y="278.4" font-family="Liberation Sans" font-weight="bold" font-size="32.5">5</text><text x="658" y="476" textLength="302.5" lengthAdjust="spacingAndGlyphs" font-family="Liberation Sans" font-weight="bold" font-size="33">Solid:T=0.138[GeV]</text><text x="640" y="531" textLength="341" lengthAdjust="spacingAndGlyphs" font-family="Liberation Sans" font-weight="bold" font-size="33">Dashed:T=0.128[GeV]</text><g><rect x="258.97" y="610.43" width="7.76" height="5.97" fill="#fff"/><rect x="272.20" y="610.43" width="7.25" height="5.97" fill="#fff"/><rect x="395.57" y="610.43" width="7.76" height="5.97" fill="#fff"/><rect x="408.80" y="610.43" width="7.25" height="5.97" fill="#fff"/><rect x="532.27" y="610.43" width="7.76" height="5.97" fill="#fff"/><rect x="545.50" y="610.43" width="7.25" height="5.97" fill="#fff"/><rect x="668.87" y="610.43" width="7.76" height="5.97" fill="#fff"/><rect x="682.10" y="610.43" width="7.25" height="5.97" fill="#fff"/><rect x="805.57" y="610.43" width="7.76" height="5.97" fill="#fff"/><rect x="818.80" y="610.43" width="7.25" height="5.97" fill="#fff"/><rect x="99.52" y="252.93" width="8.21" height="5.97" fill="#fff"/><rect x="113.52" y="252.93" width="7.67" height="5.97" fill="#fff"/><rect x="99.52" y="473.73" width="8.21" height="5.97" fill="#fff"/><rect x="113.52" y="473.73" width="7.67" height="5.97" fill="#fff"/><rect x="295.80" y="73.15" width="18.61" height="13.97" fill="#fff"/><rect x="315.29" y="87.75" width="6.68" height="5.05" fill="#fff"/><rect x="326.53" y="87.75" width="6.26" height="5.05" fill="#fff"/><rect x="295.80" y="135.15" width="18.61" height="13.97" fill="#fff"/><rect x="295.80" y="197.45" width="18.61" height="13.97" fill="#fff"/><rect x="295.80" y="259.55" width="18.61" height="13.97" fill="#fff"/><rect x="770.46" y="456.86" width="18.93" height="14.19" fill="#fff"/><rect x="817.91" y="471.70" width="6.78" height="5.10" fill="#fff"/><rect x="829.33" y="471.70" width="6.35" height="5.10" fill="#fff"/><rect x="791.05" y="511.86" width="18.91" height="14.19" fill="#fff"/><rect x="838.48" y="526.70" width="6.78" height="5.10" fill="#fff"/><rect x="849.89" y="526.70" width="6.35" height="5.10" fill="#fff"/><rect x="297.78" y="79.39" width="15.18" height="3.41" fill="#000"/><rect x="297.78" y="86.08" width="15.18" height="3.70" fill="#000"/><rect x="297.78" y="141.39" width="15.18" height="3.41" fill="#000"/><rect x="297.78" y="148.09" width="15.18" height="3.70" fill="#000"/><rect x="297.78" y="203.69" width="15.18" height="3.41" fill="#000"/><rect x="297.78" y="210.39" width="15.18" height="3.70" fill="#000"/><rect x="297.78" y="265.79" width="15.18" height="3.41" fill="#000"/><rect x="297.78" y="272.48" width="15.18" height="3.70" fill="#000"/><rect x="772.45" y="463.20" width="15.47" height="3.47" fill="#000"/><rect x="772.45" y="469.99" width="15.47" height="3.76" fill="#000"/><rect x="793.04" y="518.20" width="15.45" height="3.47" fill="#000"/><rect x="793.04" y="524.99" width="15.45" height="3.76" fill="#000"/></g></svg></body></html>
